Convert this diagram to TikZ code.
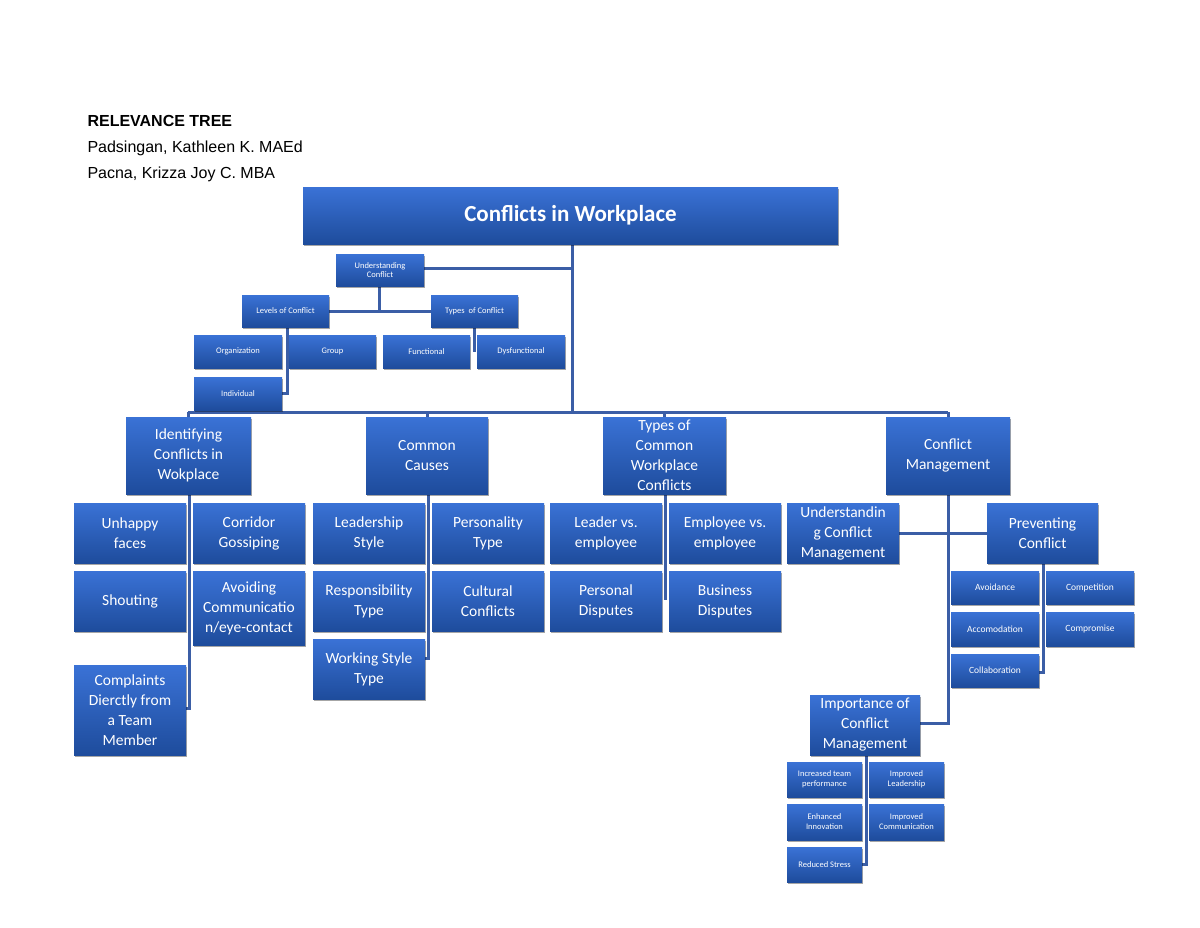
\documentclass[tikz,border=0pt]{standalone}
\usepackage{fontspec}
\setmainfont{Carlito}
\newfontfamily\hdr{Liberation Sans}
\usetikzlibrary{shadows,backgrounds}
\definecolor{btop}{HTML}{3A72D6}
\definecolor{bbot}{HTML}{1E4C9C}
\definecolor{ln}{HTML}{3B5EA6}
\tikzset{box/.style={top color=btop,bottom color=bbot,draw=none,text=white,align=center,inner sep=1pt,
  drop shadow={shadow xshift=1pt,shadow yshift=-2pt,opacity=0.35,fill=black}},
  conn/.style={draw=ln,line width=3pt}}
\newcommand\bx[7]{%
  \pgfmathsetmacro\bw{#4-#2}\pgfmathsetmacro\bh{#5-#3}%
  \pgfmathsetmacro\cx{(#2+#4)/2}\pgfmathsetmacro\cy{(#3+#5)/2}%
  \node[box,minimum width=\bw pt,minimum height=\bh pt,font=#7] (#1) at (\cx,\cy) {#6};}
\begin{document}
\begin{tikzpicture}[x=1pt,y=-1pt]
\useasboundingbox (0,0) rectangle (1200,927);
\begin{scope}[on background layer]
\fill[white] (0,0) rectangle (1200,927);
\end{scope}
\node[anchor=west,font=\hdr\bfseries\fontsize{16}{18}\selectfont] (h1) at (84,121) {RELEVANCE TREE};
\node[anchor=west,font=\hdr\fontsize{16}{18}\selectfont] (h2) at (84,148) {Padsingan, Kathleen K. MAEd};
\node[anchor=west,font=\hdr\fontsize{16}{18}\selectfont] (h3) at (84,174) {Pacna, Krizza Joy C. MBA};
\bx{root}{303}{187}{838}{244}{Conflicts in Workplace}{\bfseries\fontsize{23}{26}\selectfont}
\def\sm{\fontsize{8.5}{9.5}\selectfont}
\bx{uc}{336}{254}{424}{286}{Understanding\\Conflict}{\sm}
\bx{lc}{242}{295}{329}{327}{Levels of Conflict}{\sm}
\bx{tc}{431}{295}{518}{327}{Types \ of Conflict}{\sm}
\bx{org}{194}{335}{282}{368}{Organization}{\sm}
\bx{grp}{289}{335}{376}{368}{Group}{\sm}
\bx{fun}{383}{335}{470}{368}{Functional}{\sm}
\bx{dys}{477}{335}{565}{368}{Dysfunctional}{\sm}
\bx{ind}{194}{377}{282}{410}{Individual}{\sm}
\def\bg{\fontsize{15.5}{20}\selectfont}
\bx{idf}{126}{417}{251}{494}{Identifying\\Conflicts in\\Wokplace}{\bg}
\bx{cc}{366}{417}{488}{494}{Common\\Causes}{\bg}
\bx{tcw}{603}{417}{726}{494}{Types of\\Common\\Workplace\\Conflicts}{\bg}
\bx{cm}{886}{417}{1010}{494}{Conflict\\Management}{\bg}
\bx{uf}{74}{503}{186}{563}{Unhappy\\faces}{\bg}
\bx{cg}{193}{503}{305}{563}{Corridor\\Gossiping}{\bg}
\bx{sh}{74}{571}{186}{631}{Shouting}{\bg}
\bx{av}{193}{571}{305}{645}{Avoiding\\Communicatio\\n/eye-contact}{\bg}
\bx{cd}{74}{665}{186}{755}{Complaints\\Dierctly from\\a Team\\Member}{\bg}
\bx{ls}{313}{503}{425}{563}{Leadership\\Style}{\bg}
\bx{pt}{432}{503}{544}{563}{Personality\\Type}{\bg}
\bx{rt}{313}{571}{425}{631}{Responsibility\\Type}{\bg}
\bx{cul}{432}{571}{544}{631}{Cultural\\Conflicts}{\bg}
\bx{ws}{313}{639}{425}{699}{Working Style\\Type}{\bg}
\bx{lve}{550}{503}{662}{563}{Leader vs.\\employee}{\bg}
\bx{eve}{669}{503}{781}{563}{Employee vs.\\employee}{\bg}
\bx{pd}{550}{571}{662}{631}{Personal\\Disputes}{\bg}
\bx{bd}{669}{571}{781}{631}{Business\\Disputes}{\bg}
\bx{ucm}{787}{503}{899}{563}{Understandin\\g Conflict\\Management}{\bg}
\bx{pc}{987}{503}{1098}{563}{Preventing\\Conflict}{\bg}
\def\md{\fontsize{9.5}{11}\selectfont}
\bx{avd}{951}{571}{1039}{604}{Avoidance}{\md}
\bx{cmp}{1046}{571}{1134}{604}{Competition}{\md}
\bx{acc}{951}{612}{1039}{646}{Accomodation}{\md}
\bx{cpr}{1046}{612}{1134}{646}{Compromise}{\md}
\bx{col}{951}{654}{1039}{687}{Collaboration}{\md}
\bx{imp}{810}{695}{920}{755}{Importance of\\Conflict\\Management}{\bg}
\def\xs{\fontsize{8.5}{10}\selectfont}
\bx{itp}{787}{762}{862}{797}{Increased team\\performance}{\xs}
\bx{il}{869}{762}{944}{797}{Improved\\Leadership}{\xs}
\bx{ei}{787}{804}{862}{840}{Enhanced\\Innovation}{\xs}
\bx{ic}{869}{804}{944}{840}{Improved\\Communication}{\xs}
\bx{rs}{787}{847}{862}{882}{Reduced Stress}{\xs}
\begin{scope}[on background layer]
\coordinate (bar) at (572,412);
\draw[conn] (572,244) -- (bar);
\draw[conn] (uc.east |- 0,268) -- (572,268);
\draw[conn] (188,412) -- (948,412);
\draw[conn] (188,412) -- (188,417);
\draw[conn] (427,412) -- (427,417);
\draw[conn] (664,412) -- (664,417);
\draw[conn] (948,412) -- (948,417);
\draw[conn] (379,286) -- (379,311);
\draw[conn] (lc.east |- 0,311) -- (tc.west |- 0,311);
\draw[conn] (287,327) -- (287,393) -- (ind.east |- 0,393);
\draw[conn] (474,327) -- (474,352);
\draw[conn] (189,494) -- (189,708) -- (cd.east |- 0,708);
\draw[conn] (428,494) -- (428,658) -- (ws.east |- 0,658);
\draw[conn] (665,494) -- (665,600);
\draw[conn] (948,494) -- (948,723) -- (imp.east |- 0,723);
\draw[conn] (ucm.east |- 0,533) -- (pc.west |- 0,533);
\draw[conn] (1043,563) -- (1043,672) -- (col.east |- 0,672);
\draw[conn] (866,755) -- (866,864) -- (rs.east |- 0,864);
\end{scope}
\end{tikzpicture}
\end{document}
